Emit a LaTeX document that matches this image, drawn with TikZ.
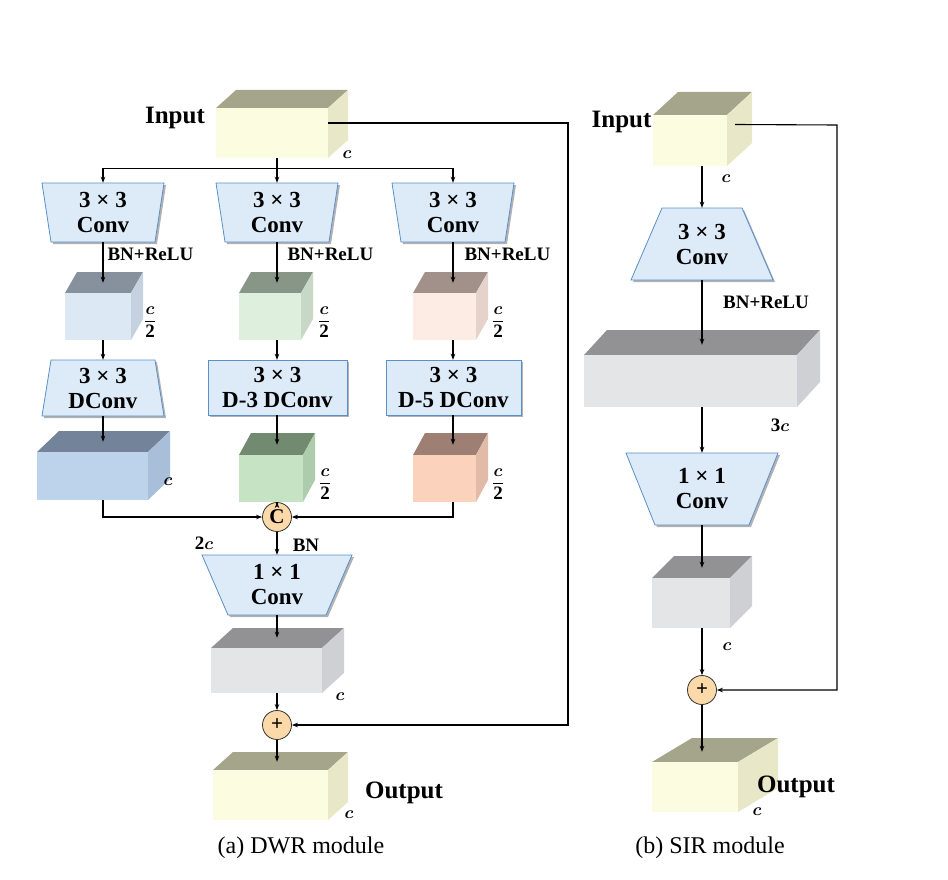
\documentclass[tikz,border=0pt]{standalone}
\usepackage{fontspec}
\setmainfont{Liberation Serif}
\usepackage{amsmath,bm}
\usetikzlibrary{arrows.meta,calc}
\newcommand\mycube[9]{%
  \fill[#9!80!black] (#2,#3)--++(#6,-#7)--(#4+#6,#3-#7)--(#4,#3)--cycle;
  \fill[#8] (#2,#3) rectangle (#4,#5);
  \fill[#9!45!#8] (#4,#3)--(#4+#6,#3-#7)--(#4+#6,#5-#7)--(#4,#5)--cycle;
  \node[inner sep=0,minimum width={(#4-#2)*1pt},minimum height={(#5-#3)*1pt}] (#1) at ({(#2+#4)/2},{(#3+#5)/2}) {};
}
\newcommand\mytrap[7]{%
  \fill[black!30] (#2-#5+2,#3+2)--(#2+#5+2,#3+2)--(#2+#6+2,#4+2)--(#2-#6+2,#4+2)--cycle;
  \filldraw[fill=tb,draw=tbd,line width=0.8pt] (#2-#5,#3)--(#2+#5,#3)--(#2+#6,#4)--(#2-#6,#4)--cycle;
  \node[inner sep=0,minimum width={2*#5*1pt},minimum height={(#4-#3)*1pt},align=center,lab] (#1) at (#2,{(#3+#4)/2}) {#7};
}
\definecolor{tb}{HTML}{DCEBF7}
\definecolor{tbd}{HTML}{5B8FC7}
\definecolor{yf}{HTML}{FCFCE0}\definecolor{yt}{HTML}{CFCFAE}
\definecolor{bf1}{HTML}{DDE8F5}\definecolor{bt1}{HTML}{A9B5C6}
\definecolor{bf2}{HTML}{BDD3EC}\definecolor{bt2}{HTML}{90A4C0}
\definecolor{gf1}{HTML}{DEEFDE}\definecolor{gt1}{HTML}{AABCAA}
\definecolor{gf2}{HTML}{C6E4C4}\definecolor{gt2}{HTML}{8FAE8C}
\definecolor{rf1}{HTML}{FDECE4}\definecolor{rt1}{HTML}{C9B5AD}
\definecolor{rf2}{HTML}{FBD2BC}\definecolor{rt2}{HTML}{C4A090}
\definecolor{sf}{HTML}{E4E5E7}\definecolor{st}{HTML}{B6B7BA}
\definecolor{cf}{HTML}{FCD9A8}
\tikzset{lab/.style={font=\fontsize{23}{25}\selectfont\bfseries},
 small/.style={font=\fontsize{19}{20}\selectfont\bfseries},
 big/.style={font=\fontsize{25}{25}\selectfont\bfseries},
 ar/.style={line width=1.1pt,-{Stealth[length=6pt,width=4.5pt]}},
 ln/.style={line width=1.1pt},
 op/.style={circle,draw=black!80,fill=cf,line width=0.8pt,minimum size=29pt,inner sep=0,font=\fontsize{21}{21}\selectfont\bfseries}}
\newcommand\cc{$\boldsymbol{c}$}
\newcommand\ch{$\displaystyle\frac{\boldsymbol{c}}{\mathbf{2}}$}
\begin{document}
\begin{tikzpicture}[x=1pt,y=-1pt]
\useasboundingbox (0,0) rectangle (948,880);
% ---------- (a) ----------
\mycube{in}{216}{108}{328}{158}{20}{18}{yf}{yt}
\node[big] at (175,118) {Input};
\node[small] at (347,155) {\cc};
\mytrap{t1}{103}{183}{242}{61}{52}{3 × 3\\Conv}
\mytrap{t2}{277}{183}{242}{61}{52}{3 × 3\\Conv}
\mytrap{t3}{453}{183}{242}{61}{52}{3 × 3\\Conv}
\draw[ln] (in.south -| t2.north) -- ++(0,10) coordinate (br);
\draw[ar] (br) -| (t1.north);
\draw[ar] (br) -- (t2.north);
\draw[ar] (br) -| (t3.north);
\mycube{s1}{65}{293}{131}{340}{12}{21}{bf1}{bt1}
\mycube{s2}{239}{293}{301}{340}{12}{21}{gf1}{gt1}
\mycube{s3}{413}{293}{476}{340}{12}{21}{rf1}{rt1}
\foreach \i in {1,2,3}{\draw[ar] (t\i.south) -- ([yshift=10pt]t\i.south |- s\i.north);}
\node[small,anchor=west] at (104,254) {BN+ReLU};
\node[small,anchor=west] at (284,254) {BN+ReLU};
\node[small,anchor=west] at (461,254) {BN+ReLU};
\node[small] at (150,322) {\ch};
\node[small] at (324,322) {\ch};
\node[small] at (498,322) {\ch};
\mytrap{d1}{103}{360}{416}{52}{61}{3 × 3\\DConv}
\filldraw[fill=black!30,draw=none] (210,362) rectangle (349,417);
\filldraw[fill=tb,draw=tbd,line width=0.8pt] (208,360) rectangle (347,415);
\node[lab,align=center,inner sep=0,minimum width=139pt,minimum height=55pt] (d2) at (277.5,387.5) {3 × 3\\D-3 DConv};
\filldraw[fill=black!30,draw=none] (388,362) rectangle (523,417);
\filldraw[fill=tb,draw=tbd,line width=0.8pt] (386,360) rectangle (521,415);
\node[lab,align=center,inner sep=0,minimum width=135pt,minimum height=55pt] (d3) at (453.5,387.5) {3 × 3\\D-5 DConv};
\foreach \i in {1,2,3}{\draw[ar] (t\i.south |- s\i.south) -- (t\i.south |- d\i.north);}
\mycube{b1}{37}{452}{148}{500}{22}{21}{bf2}{bt2}
\mycube{b2}{239}{455}{303}{502}{12}{22}{gf2}{gt2}
\mycube{b3}{413}{455}{476}{502}{12}{22}{rf2}{rt2}
\foreach \i in {1,2,3}{\draw[ar] (t\i.south |- d\i.south) -- ([yshift=10pt]t\i.south |- b\i.north);}
\node[small] at (168,482) {\cc};
\node[small] at (325,484) {\ch};
\node[small] at (498,484) {\ch};
\node[op] (cat) at (277,517) {C};
\draw[ar] (t1.south |- b1.south) |- (cat.west);
\draw[ar] (t2.south |- b2.south) -- (cat.north);
\draw[ar] (t3.south |- b3.south) |- (cat.east);
\node[small] at (204,543) {2\cc};
\node[small] at (306,545) {BN};
\mytrap{c1}{277}{555}{615}{75}{49}{1 × 1\\Conv}
\draw[ar] (cat.south) -- (c1.north);
\mycube{g1}{211}{648}{322}{693}{22}{20}{sf}{st}
\draw[ar] (c1.south) -- ([yshift=10pt]c1.south |- g1.north);
\node[small] at (340,697) {\cc};
\node[op] (add1) at (277,725) {+};
\draw[ar] (c1.south |- g1.south) -- (add1.north);
\mycube{out1}{213}{770}{328}{820}{20}{18}{yf}{yt}
\draw[ar] (add1.south) -- ([yshift=8pt]add1.south |- out1.north);
\node[small] at (349,815) {\cc};
\node[big] at (404,793) {Output};
\draw[ar] (in.east) ++(0,-10) -- (568,123) -- (568,725) -- (add1.east);
\node[font=\fontsize{24}{24}\selectfont] at (301,848) {(a) DWR module};
% ---------- (b) ----------
\mycube{in2}{653}{115}{727}{166}{25}{23}{yf}{yt}
\node[big,anchor=east] at (655,122) {Input};
\node[small] at (726,179) {\cc};
\mytrap{r1}{702}{208}{280}{40}{71}{3 × 3\\Conv}
\draw[ar] (r1.north |- in2.south) -- (r1.north);
\node[small] at (766,302) {BN+ReLU};
\mycube{g2}{584}{355}{797}{407}{23}{25}{sf}{st}
\draw[ar] (r1.south) -- ([yshift=10pt]r1.south |- g2.north);
\node[small] at (780,425) {3\cc};
\mytrap{r2}{702}{453}{525}{76}{47}{1 × 1\\Conv}
\draw[ar] (r2.north |- g2.south) -- (r2.north);
\mycube{g3}{652}{578}{730}{628}{22}{22}{sf}{st}
\draw[ar] (r2.south) -- ([yshift=10pt]r2.south |- g3.north);
\node[small] at (727,647) {\cc};
\node[op] (add2) at (702,690) {+};
\draw[ar] (r2.south |- g3.south) -- (add2.north);
\mycube{out2}{652}{762}{738}{812}{40}{24}{yf}{yt}
\draw[ar] (add2.south) -- ([yshift=10pt]add2.south |- out2.north);
\node[small] at (757,812) {\cc};
\node[big] at (796,787) {Output};
\draw[ar] (in2.east) ++(8,-16) -- (837,125) -- (837,690) -- (add2.east);
\node[font=\fontsize{24}{24}\selectfont] at (710,848) {(b) SIR module};
\end{tikzpicture}
\end{document}
